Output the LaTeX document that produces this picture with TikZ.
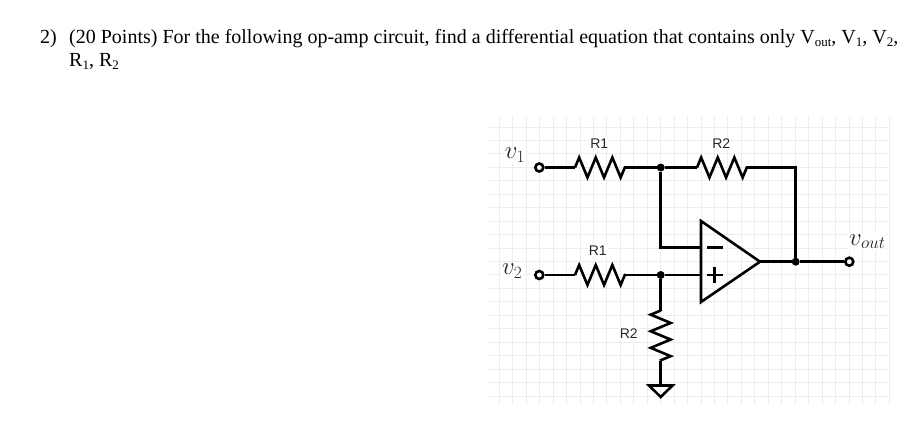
\documentclass[tikz,border=0pt]{standalone}
\usepackage{fontspec}
\setmainfont{Liberation Serif}
\newfontfamily\labelfont{Liberation Sans}
\usetikzlibrary{decorations.pathmorphing, calc}
\newcommand{\lowtxt}[1]{{\fontsize{13}{13}\selectfont\raisebox{-3pt}{#1}}}

\begin{document}
\begin{tikzpicture}[
   x=1pt, y=-1pt,
   wire/.style={line width=2.6pt},
   res/.style={wire, line join=miter, decorate, decoration={zigzag,segment length=16.6pt,amplitude=10pt}},
   resdown/.style={wire, decorate, decoration={zigzag,segment length=16.6pt,amplitude=10pt,mirror}},
   port/.style={draw, line width=2.6pt, fill=white, circle, inner sep=0pt, minimum size=8pt},
   dot/.style={fill=black, circle, inner sep=0pt, minimum size=8pt},
   gridline/.style={line width=1pt, black!7},
   namelabel/.style={font=\labelfont\fontsize{14}{14}\selectfont, text=black!85, fill=white, inner sep=1pt},
   varlabel/.style={font=\fontsize{23}{23}\selectfont, text=black!85, fill=white, inner sep=1pt},
   qtext/.style={anchor=base west, inner sep=0pt, font=\fontsize{20}{24}\selectfont}
]
\useasboundingbox (0,0) rectangle (921,431);

% --- question text
\node[qtext] (num) at (40,43.5) {2)};
\node[qtext] (line1) at (69,43.5) {(20 Points) For the following op-amp circuit, find a differential equation that contains only V\lowtxt{out}, V\lowtxt{1}, V\lowtxt{2},};
\node[qtext] (line2) at (69,66.5) {R\lowtxt{1}, R\lowtxt{2}};

% --- background grid
\foreach \i in {0,...,29}
   \draw[gridline] (499.3+13.45*\i,116) -- (499.3+13.45*\i,405);
\foreach \j in {0,...,20}
   \draw[gridline] (489,127+13.45*\j) -- (889,127+13.45*\j);

% --- positions on the wires
\coordinate (R1a) at (575,167.5);
\coordinate (R1b) at (625,167.5);
\coordinate (R2a) at (697,167.5);
\coordinate (R2b) at (747,167.5);
\coordinate (R3a) at (575,275);
\coordinate (R3b) at (625,275);
\coordinate (R4a) at (660.7,310.5);
\coordinate (R4b) at (660.7,360.5);
\coordinate (corner) at (795.7,167.5);
\coordinate (fbin) at (660.7,247.7);
\coordinate (minus) at (701,247.7);
\coordinate (plus) at (701,275);
\coordinate (gndtop) at (660.7,385.5);

% --- op-amp corners
\coordinate (ampT) at (701,221);
\coordinate (ampB) at (701,302);
\coordinate (ampO) at (760,261.7);

% --- ports and junctions
\node[dot] (J1) at (660.7,167.5) {};
\node[dot] (J2) at (660.7,275) {};
\node[dot] (J3) at (795.7,261.7) {};
\node[port] (P1) at (539.3,167.5) {};
\node[port] (P2) at (539.3,275) {};
\node[port] (P3) at (849.3,261.7) {};

% --- wires
\draw[wire] (P1) -- (R1a);
\draw[res] (R1a) -- (R1b);
\draw[wire] (R1b) -- (J1) -- (R2a);
\draw[res] (R2a) -- (R2b);
\draw[wire] (R2b) -- (corner) -- (J3);

\draw[wire] (P2) -- (R3a);
\draw[res] (R3a) -- (R3b);
\draw[wire] (R3b) -- (J2) -- (plus);

\draw[wire] (J1) -- (fbin) -- (minus);
\draw[wire] (J2) -- (R4a);
\draw[resdown] (R4a) -- (R4b);
\draw[wire] (R4b) -- (gndtop);
\draw[wire] (ampO) -- (J3) -- (P3);

% --- ground and op-amp
\draw[wire, line join=miter] (649,385.5) -- (672.5,385.5) -- (660.7,397) -- cycle;
\draw[wire, line join=miter] (ampT) -- (ampO) -- (ampB) -- cycle;
\draw[wire] (707,247.7) -- (722.7,247.7);
\draw[wire] (706.7,275) -- (722.7,275);
\draw[wire] (714.7,267) -- (714.7,283);

% --- labels
\node[namelabel] (LR1) at (599.3,143.3) {R1};
\node[namelabel] (LR2) at (721.3,143.3) {R2};
\node[namelabel] (LR3) at (597.7,251) {R1};
\node[namelabel] (LR4) at (628.7,334) {R2};
\node[varlabel] (Lv1) at (515,155) {$v_1$};
\node[varlabel] (Lv2) at (512.3,271) {$v_2$};
\node[varlabel] (Lvo) at (867.3,241.7) {$v_{out}$};

\end{tikzpicture}
\end{document}
